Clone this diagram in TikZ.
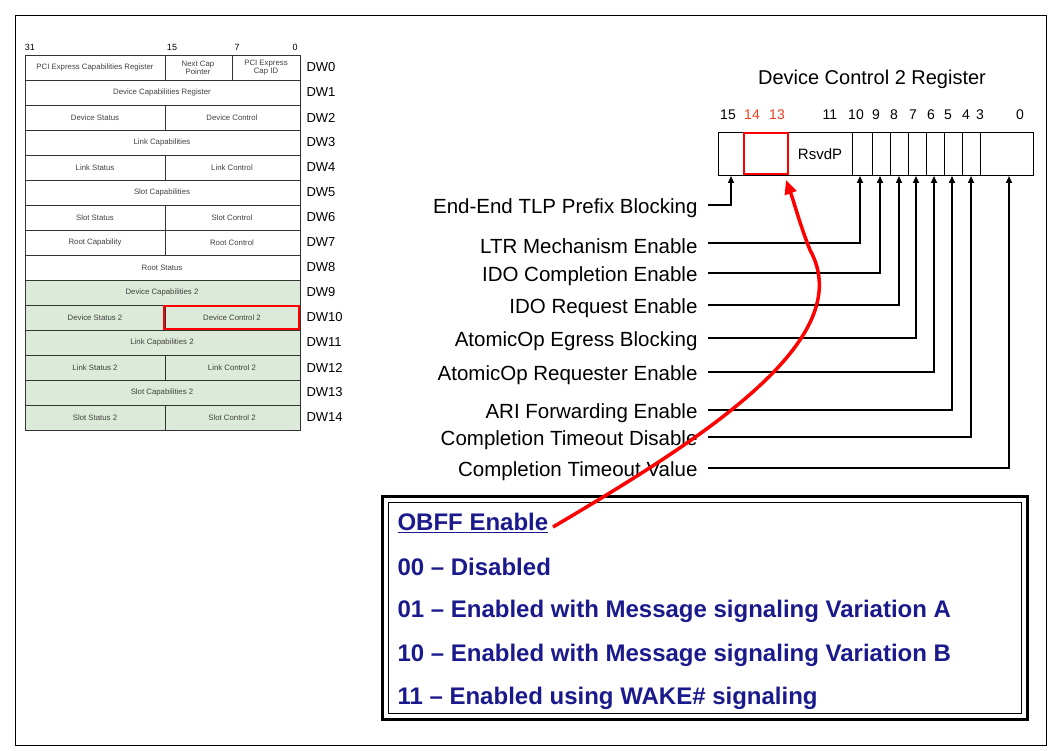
\documentclass[tikz,border=0pt]{standalone}
\usepackage{fontspec}
\setmainfont{Liberation Sans}
\usetikzlibrary{arrows.meta}
\definecolor{gr}{HTML}{DCEBD9}
\definecolor{obff}{HTML}{1A1A8C}
\definecolor{bitred}{HTML}{F04020}
\begin{document}
\begin{tikzpicture}[x=1pt,y=-1pt,
  cell/.style={draw=black!80,line width=0.6pt},
  tt/.style={font=\fontsize{7.8}{8}\selectfont,text=black!75,inner sep=1pt},
  dw/.style={font=\fontsize{13}{14}\selectfont,anchor=west},
  lab/.style={font=\fontsize{20.5}{21}\selectfont,anchor=east},
  bit/.style={font=\fontsize{14}{15}\selectfont},
  conn/.style={line width=1.6pt,-{Triangle[length=7pt,width=6pt]}},
  ob/.style={font=\bfseries\fontsize{24}{25}\selectfont,text=obff,anchor=west}]
\useasboundingbox (0,0) rectangle (1062,751);
\draw[line width=0.8pt] (15,15) rectangle (1046,745);
% left table
\foreach \b/\x in {31/30,15/172,7/237,0/295} \node[font=\fontsize{9}{10}\selectfont] at (\x,47) {\b};
\fill[gr] (25,280) rectangle (300,430);
\foreach \i in {0,...,14} {\draw[cell] (25,55+25*\i) rectangle (300,80+25*\i);
  \node[dw] at (303,67.5+25*\i) {DW\i};}
\draw[cell] (165,55)--(165,80) (232,55)--(232,80);
\foreach \i in {2,4,6,7,10,12,14} \draw[cell] (165,55+25*\i)--(165,80+25*\i);
\node[tt] at (95,67.5) {PCI Express Capabilities Register};
\node[tt,align=center] at (198,67.5) {Next Cap\\Pointer};
\node[tt,align=center] at (266,67.5) {PCI Express\\Cap ID};
\node[tt] at (162,92.5) {Device Capabilities Register};
\node[tt] at (95,117.5) {Device Status}; \node[tt] at (232,117.5) {Device Control};
\node[tt] at (162,142.5) {Link Capabilities};
\node[tt] at (95,167.5) {Link Status}; \node[tt] at (232,167.5) {Link Control};
\node[tt] at (162,192.5) {Slot Capabilities};
\node[tt] at (95,217.5) {Slot Status}; \node[tt] at (232,217.5) {Slot Control};
\node[tt] at (95,242.5) {Root Capability}; \node[tt] at (232,242.5) {Root Control};
\node[tt] at (162,267.5) {Root Status};
\node[tt] at (162,292.5) {Device Capabilities 2};
\node[tt] at (95,317.5) {Device Status 2}; \node[tt] at (232,317.5) {Device Control 2};
\node[tt] at (162,342.5) {Link Capabilities 2};
\node[tt] at (95,367.5) {Link Status 2}; \node[tt] at (232,367.5) {Link Control 2};
\node[tt] at (162,392.5) {Slot Capabilities 2};
\node[tt] at (95,417.5) {Slot Status 2}; \node[tt] at (232,417.5) {Slot Control 2};
\draw[red,line width=2pt] (164,306) rectangle (299,329);
% register
\node[font=\fontsize{20}{21}\selectfont] at (872,79) {Device Control 2 Register};
\draw[line width=0.7pt] (718,132) rectangle (1033,175);
\foreach \x in {743,852,872,890,908,926,944,962,980} \draw[line width=0.7pt] (\x,132)--(\x,175);
\node[font=\fontsize{15}{16}\selectfont] at (820,154) {RsvdP};
\draw[red,line width=2pt] (744,133) rectangle (788,174);
\foreach \b/\x in {15/728,11/830,10/856,9/876,8/894,7/913,6/931,5/948,4/966,3/980,0/1020} \node[bit] at (\x,115) {\b};
\node[bit,text=bitred] at (752,115) {14};
\node[bit,text=bitred] at (777,115) {13};
% labels
\foreach \t/\y/\x [count=\k] in {End-End TLP Prefix Blocking/205/731,LTR Mechanism Enable/243/860,IDO Completion Enable/273/880,IDO Request Enable/305/899,AtomicOp Egress Blocking/338/916,AtomicOp Requester Enable/372/934,ARI Forwarding Enable/410/952,Completion Timeout Disable/437/971,Completion Timeout Value/468/1009} {
  \node[lab] (l\k) at (701,\y+3) {\t};
  \coordinate (t\k) at (\x,176);
  \draw[conn] (708,\y) -| (t\k);}
% bottom box
\draw[line width=3pt] (382,496) rectangle (1027,719);
\draw[line width=1pt] (388,502) rectangle (1021,713);
\node[ob] (o1) at (394,523) {\underline{OBFF Enable}};
\node[ob] at (394,567) {00 -- Disabled};
\node[ob] at (394,611) {01 -- Enabled with Message signaling Variation A};
\node[ob] at (394,655) {10 -- Enabled with Message signaling Variation B};
\node[ob] at (394,698) {11 -- Enabled using WAKE\# signaling};
\draw[red,line width=3.5pt,-{Triangle[length=14pt,width=12pt]}] (553,527) .. controls (700,440) and (860,340) .. (810,250) .. controls (800,225) and (795,205) .. (786,180);
\end{tikzpicture}
\end{document}
